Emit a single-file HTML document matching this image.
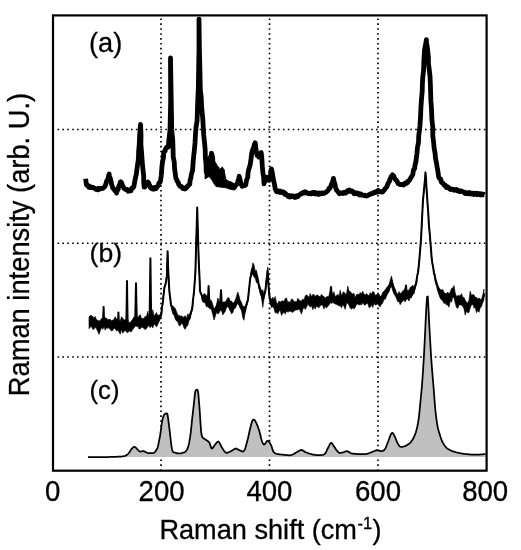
<!DOCTYPE html>
<html><head><meta charset="utf-8"><title>Raman spectra</title>
<style>
html,body{margin:0;padding:0;background:#fff;}
body{width:521px;height:550px;overflow:hidden;}
svg{display:block}
text{font-family:"Liberation Sans",Arial,sans-serif;fill:#000;}
</style></head><body>
<svg width="521" height="550" viewBox="0 0 521 550">
<rect width="521" height="550" fill="#fff"/>
<g stroke="#000" stroke-width="1.5" fill="none"><line x1="161.0" y1="18.45" x2="161.0" y2="469.7" stroke-width="1.7" stroke-dasharray="1.6 3.3"/><line x1="269.5" y1="18.45" x2="269.5" y2="469.7" stroke-width="1.7" stroke-dasharray="1.6 3.3"/><line x1="378.0" y1="18.45" x2="378.0" y2="469.7" stroke-width="1.7" stroke-dasharray="1.6 3.3"/><line x1="57.5" y1="129.5" x2="485.6" y2="129.5" stroke-width="1.6" stroke-dasharray="1.6 3.3"/><line x1="57.5" y1="243.2" x2="485.6" y2="243.2" stroke-width="1.6" stroke-dasharray="1.6 3.3"/><line x1="57.5" y1="357.0" x2="485.6" y2="357.0" stroke-width="1.6" stroke-dasharray="1.6 3.3"/></g>
<path d="M88.0,457.0 L88.8,457.0 L89.5,457.0 L90.2,457.0 L91.0,457.0 L91.8,457.0 L92.5,457.0 L93.2,457.0 L94.0,457.0 L94.8,457.0 L95.5,457.0 L96.2,457.0 L97.0,457.0 L97.8,457.0 L98.5,457.0 L99.2,457.0 L100.0,457.0 L100.8,457.0 L101.5,457.0 L102.2,457.0 L103.0,457.0 L103.8,457.0 L104.5,457.0 L105.2,457.0 L106.0,457.0 L106.8,457.0 L107.5,457.0 L108.2,457.0 L109.0,457.0 L109.8,456.9 L110.5,456.9 L111.2,456.9 L112.0,456.9 L112.8,456.9 L113.5,456.9 L114.2,456.8 L115.0,456.8 L115.8,456.8 L116.5,456.8 L117.2,456.7 L118.0,456.7 L118.8,456.7 L119.5,456.6 L120.2,456.6 L121.0,456.5 L121.8,456.5 L122.5,456.4 L123.2,456.4 L124.0,456.2 L124.8,456.0 L125.5,455.7 L126.2,455.2 L127.0,454.7 L127.8,454.2 L128.5,453.5 L129.2,452.5 L130.0,451.3 L130.8,450.1 L131.5,449.1 L132.2,448.3 L133.0,447.5 L133.8,447.0 L134.5,446.8 L135.2,447.2 L136.0,447.9 L136.8,448.7 L137.5,449.5 L138.2,450.2 L139.0,450.9 L139.8,451.4 L140.5,451.7 L141.2,451.5 L142.0,451.2 L142.8,451.0 L143.5,451.1 L144.2,451.4 L145.0,451.7 L145.8,452.1 L146.5,452.5 L147.2,452.8 L148.0,453.0 L148.8,453.1 L149.5,453.2 L150.2,453.2 L151.0,453.2 L151.8,453.1 L152.5,453.1 L153.2,453.0 L154.0,452.7 L154.8,452.1 L155.5,451.3 L156.2,450.3 L157.0,449.0 L157.8,447.0 L158.5,443.9 L159.2,440.1 L160.0,436.0 L160.8,430.9 L161.5,425.1 L162.2,420.7 L163.0,417.6 L163.8,415.5 L164.5,414.3 L165.2,413.7 L166.0,413.6 L166.8,413.3 L167.5,414.3 L168.2,419.0 L169.0,425.3 L169.8,431.9 L170.5,438.2 L171.2,444.4 L172.0,449.4 L172.8,451.7 L173.5,452.3 L174.2,452.5 L175.0,452.7 L175.8,452.9 L176.5,453.1 L177.2,453.3 L178.0,453.4 L178.8,453.4 L179.5,453.4 L180.2,453.4 L181.0,453.3 L181.8,453.1 L182.5,452.9 L183.2,452.7 L184.0,452.4 L184.8,452.1 L185.5,451.7 L186.2,450.9 L187.0,449.6 L187.8,447.9 L188.5,445.7 L189.2,442.4 L190.0,437.9 L190.8,432.2 L191.5,425.4 L192.2,418.5 L193.0,411.5 L193.8,404.6 L194.5,397.8 L195.2,391.8 L196.0,390.0 L196.8,389.7 L197.5,389.8 L198.2,392.5 L199.0,401.6 L199.8,412.1 L200.5,423.4 L201.2,432.5 L202.0,436.6 L202.8,437.8 L203.5,438.3 L204.2,438.8 L205.0,439.3 L205.8,439.8 L206.5,440.3 L207.2,440.8 L208.0,441.3 L208.8,441.8 L209.5,442.8 L210.2,444.9 L211.0,447.2 L211.8,448.6 L212.5,448.3 L213.2,447.4 L214.0,446.2 L214.8,445.1 L215.5,444.1 L216.2,443.2 L217.0,442.3 L217.8,441.6 L218.5,441.5 L219.2,442.4 L220.0,443.8 L220.8,445.4 L221.5,446.8 L222.2,448.0 L223.0,449.2 L223.8,450.4 L224.5,451.4 L225.2,452.2 L226.0,452.7 L226.8,452.9 L227.5,452.8 L228.2,452.5 L229.0,452.1 L229.8,451.8 L230.5,451.4 L231.2,451.0 L232.0,450.6 L232.8,450.1 L233.5,449.6 L234.2,449.1 L235.0,448.7 L235.8,448.6 L236.5,448.7 L237.2,449.1 L238.0,449.5 L238.8,449.9 L239.5,450.2 L240.2,450.6 L241.0,450.9 L241.8,451.3 L242.5,451.6 L243.2,451.5 L244.0,450.9 L244.8,449.6 L245.5,447.5 L246.2,445.0 L247.0,442.1 L247.8,439.0 L248.5,435.9 L249.2,432.6 L250.0,429.2 L250.8,426.0 L251.5,423.2 L252.2,421.1 L253.0,419.9 L253.8,419.6 L254.5,420.0 L255.2,421.0 L256.0,422.4 L256.8,424.1 L257.5,425.8 L258.2,427.8 L259.0,430.0 L259.8,432.7 L260.5,435.8 L261.2,438.8 L262.0,441.3 L262.8,443.1 L263.5,444.3 L264.2,444.6 L265.0,443.9 L265.8,442.8 L266.5,441.6 L267.2,440.8 L268.0,440.8 L268.8,441.5 L269.5,442.4 L270.2,443.6 L271.0,445.0 L271.8,447.0 L272.5,449.4 L273.2,451.4 L274.0,452.4 L274.8,453.1 L275.5,453.5 L276.2,453.8 L277.0,454.0 L277.8,454.1 L278.5,454.2 L279.2,454.3 L280.0,454.4 L280.8,454.5 L281.5,454.6 L282.2,454.7 L283.0,454.7 L283.8,454.8 L284.5,454.8 L285.2,454.9 L286.0,455.0 L286.8,455.1 L287.5,455.2 L288.2,455.2 L289.0,455.3 L289.8,455.3 L290.5,455.2 L291.2,455.0 L292.0,454.8 L292.8,454.5 L293.5,454.1 L294.2,453.7 L295.0,453.2 L295.8,452.7 L296.5,452.3 L297.2,451.9 L298.0,451.4 L298.8,451.0 L299.5,450.6 L300.2,450.2 L301.0,450.0 L301.8,450.0 L302.5,450.2 L303.2,450.7 L304.0,451.2 L304.8,451.7 L305.5,452.2 L306.2,452.5 L307.0,452.7 L307.8,453.0 L308.5,453.3 L309.2,453.5 L310.0,453.8 L310.8,454.0 L311.5,454.2 L312.2,454.4 L313.0,454.6 L313.8,454.7 L314.5,454.9 L315.2,454.9 L316.0,455.0 L316.8,455.0 L317.5,455.0 L318.2,455.0 L319.0,455.0 L319.8,455.0 L320.5,455.0 L321.2,455.0 L322.0,455.0 L322.8,454.8 L323.5,454.6 L324.2,454.2 L325.0,453.6 L325.8,452.6 L326.5,451.1 L327.2,449.5 L328.0,448.0 L328.8,446.5 L329.5,444.9 L330.2,443.6 L331.0,442.9 L331.8,443.1 L332.5,444.0 L333.2,445.2 L334.0,446.4 L334.8,447.6 L335.5,448.7 L336.2,449.8 L337.0,450.8 L337.8,451.7 L338.5,452.4 L339.2,452.8 L340.0,452.9 L340.8,452.8 L341.5,452.7 L342.2,452.6 L343.0,452.4 L343.8,452.1 L344.5,451.8 L345.2,451.5 L346.0,451.3 L346.8,451.2 L347.5,451.3 L348.2,451.6 L349.0,452.1 L349.8,452.6 L350.5,453.0 L351.2,453.4 L352.0,453.6 L352.8,453.7 L353.5,453.7 L354.2,453.8 L355.0,453.9 L355.8,453.9 L356.5,453.9 L357.2,454.0 L358.0,454.0 L358.8,454.0 L359.5,454.1 L360.2,454.1 L361.0,454.2 L361.8,454.2 L362.5,454.2 L363.2,454.2 L364.0,454.2 L364.8,454.2 L365.5,454.1 L366.2,454.0 L367.0,453.8 L367.8,453.6 L368.5,453.3 L369.2,453.1 L370.0,452.8 L370.8,452.5 L371.5,452.2 L372.2,451.9 L373.0,451.6 L373.8,451.3 L374.5,451.0 L375.2,450.7 L376.0,450.4 L376.8,450.2 L377.5,450.3 L378.2,450.4 L379.0,450.6 L379.8,450.8 L380.5,451.0 L381.2,451.0 L382.0,451.0 L382.8,450.9 L383.5,450.6 L384.2,450.0 L385.0,449.0 L385.8,447.6 L386.5,445.8 L387.2,443.9 L388.0,442.0 L388.8,440.0 L389.5,437.9 L390.2,435.9 L391.0,434.1 L391.8,433.0 L392.5,432.9 L393.2,433.8 L394.0,435.0 L394.8,436.5 L395.5,438.1 L396.2,440.0 L397.0,441.9 L397.8,443.5 L398.5,444.8 L399.2,445.8 L400.0,446.5 L400.8,446.9 L401.5,447.0 L402.2,446.9 L403.0,446.7 L403.8,446.5 L404.5,446.3 L405.2,446.0 L406.0,445.6 L406.8,445.2 L407.5,444.8 L408.2,444.3 L409.0,443.8 L409.8,443.2 L410.5,442.5 L411.2,441.6 L412.0,440.5 L412.8,439.3 L413.5,437.9 L414.2,436.5 L415.0,434.7 L415.8,432.5 L416.5,429.9 L417.2,427.0 L418.0,423.2 L418.8,418.0 L419.5,411.5 L420.2,404.0 L421.0,396.0 L421.8,387.6 L422.5,378.5 L423.2,368.3 L424.0,355.0 L424.8,339.4 L425.5,324.0 L426.2,309.6 L427.0,296.9 L427.8,296.4 L428.5,308.7 L429.2,323.4 L430.0,337.7 L430.8,351.8 L431.5,362.1 L432.2,371.4 L433.0,380.8 L433.8,390.3 L434.5,399.7 L435.2,408.5 L436.0,416.0 L436.8,421.8 L437.5,426.1 L438.2,429.4 L439.0,432.0 L439.8,434.5 L440.5,436.9 L441.2,439.1 L442.0,441.0 L442.8,442.6 L443.5,443.8 L444.2,444.9 L445.0,446.0 L445.8,447.0 L446.5,447.8 L447.2,448.5 L448.0,449.0 L448.8,449.4 L449.5,449.8 L450.2,450.2 L451.0,450.5 L451.8,450.9 L452.5,451.2 L453.2,451.5 L454.0,451.7 L454.8,451.9 L455.5,452.1 L456.2,452.3 L457.0,452.5 L457.8,452.7 L458.5,452.8 L459.2,453.0 L460.0,453.2 L460.8,453.3 L461.5,453.5 L462.2,453.6 L463.0,453.7 L463.8,453.8 L464.5,453.9 L465.2,454.0 L466.0,454.1 L466.8,454.2 L467.5,454.2 L468.2,454.3 L469.0,454.4 L469.8,454.4 L470.5,454.5 L471.2,454.5 L472.0,454.5 L472.8,454.6 L473.5,454.6 L474.2,454.6 L475.0,454.6 L475.8,454.6 L476.5,454.6 L477.2,454.6 L478.0,454.6 L478.8,454.5 L479.5,454.5 L480.2,454.5 L481.0,454.4 L481.8,454.4 L482.5,454.3 L483.2,454.3 L484.0,454.2 L484.8,454.1 L485.5,454.1 L486,457 L88,457 Z" fill="#c0c0c0" stroke="none"/>
<path d="M88.0,457.0 L88.8,457.0 L89.5,457.0 L90.2,457.0 L91.0,457.0 L91.8,457.0 L92.5,457.0 L93.2,457.0 L94.0,457.0 L94.8,457.0 L95.5,457.0 L96.2,457.0 L97.0,457.0 L97.8,457.0 L98.5,457.0 L99.2,457.0 L100.0,457.0 L100.8,457.0 L101.5,457.0 L102.2,457.0 L103.0,457.0 L103.8,457.0 L104.5,457.0 L105.2,457.0 L106.0,457.0 L106.8,457.0 L107.5,457.0 L108.2,457.0 L109.0,457.0 L109.8,456.9 L110.5,456.9 L111.2,456.9 L112.0,456.9 L112.8,456.9 L113.5,456.9 L114.2,456.8 L115.0,456.8 L115.8,456.8 L116.5,456.8 L117.2,456.7 L118.0,456.7 L118.8,456.7 L119.5,456.6 L120.2,456.6 L121.0,456.5 L121.8,456.5 L122.5,456.4 L123.2,456.4 L124.0,456.2 L124.8,456.0 L125.5,455.7 L126.2,455.2 L127.0,454.7 L127.8,454.2 L128.5,453.5 L129.2,452.5 L130.0,451.3 L130.8,450.1 L131.5,449.1 L132.2,448.3 L133.0,447.5 L133.8,447.0 L134.5,446.8 L135.2,447.2 L136.0,447.9 L136.8,448.7 L137.5,449.5 L138.2,450.2 L139.0,450.9 L139.8,451.4 L140.5,451.7 L141.2,451.5 L142.0,451.2 L142.8,451.0 L143.5,451.1 L144.2,451.4 L145.0,451.7 L145.8,452.1 L146.5,452.5 L147.2,452.8 L148.0,453.0 L148.8,453.1 L149.5,453.2 L150.2,453.2 L151.0,453.2 L151.8,453.1 L152.5,453.1 L153.2,453.0 L154.0,452.7 L154.8,452.1 L155.5,451.3 L156.2,450.3 L157.0,449.0 L157.8,447.0 L158.5,443.9 L159.2,440.1 L160.0,436.0 L160.8,430.9 L161.5,425.1 L162.2,420.7 L163.0,417.6 L163.8,415.5 L164.5,414.3 L165.2,413.7 L166.0,413.6 L166.8,413.3 L167.5,414.3 L168.2,419.0 L169.0,425.3 L169.8,431.9 L170.5,438.2 L171.2,444.4 L172.0,449.4 L172.8,451.7 L173.5,452.3 L174.2,452.5 L175.0,452.7 L175.8,452.9 L176.5,453.1 L177.2,453.3 L178.0,453.4 L178.8,453.4 L179.5,453.4 L180.2,453.4 L181.0,453.3 L181.8,453.1 L182.5,452.9 L183.2,452.7 L184.0,452.4 L184.8,452.1 L185.5,451.7 L186.2,450.9 L187.0,449.6 L187.8,447.9 L188.5,445.7 L189.2,442.4 L190.0,437.9 L190.8,432.2 L191.5,425.4 L192.2,418.5 L193.0,411.5 L193.8,404.6 L194.5,397.8 L195.2,391.8 L196.0,390.0 L196.8,389.7 L197.5,389.8 L198.2,392.5 L199.0,401.6 L199.8,412.1 L200.5,423.4 L201.2,432.5 L202.0,436.6 L202.8,437.8 L203.5,438.3 L204.2,438.8 L205.0,439.3 L205.8,439.8 L206.5,440.3 L207.2,440.8 L208.0,441.3 L208.8,441.8 L209.5,442.8 L210.2,444.9 L211.0,447.2 L211.8,448.6 L212.5,448.3 L213.2,447.4 L214.0,446.2 L214.8,445.1 L215.5,444.1 L216.2,443.2 L217.0,442.3 L217.8,441.6 L218.5,441.5 L219.2,442.4 L220.0,443.8 L220.8,445.4 L221.5,446.8 L222.2,448.0 L223.0,449.2 L223.8,450.4 L224.5,451.4 L225.2,452.2 L226.0,452.7 L226.8,452.9 L227.5,452.8 L228.2,452.5 L229.0,452.1 L229.8,451.8 L230.5,451.4 L231.2,451.0 L232.0,450.6 L232.8,450.1 L233.5,449.6 L234.2,449.1 L235.0,448.7 L235.8,448.6 L236.5,448.7 L237.2,449.1 L238.0,449.5 L238.8,449.9 L239.5,450.2 L240.2,450.6 L241.0,450.9 L241.8,451.3 L242.5,451.6 L243.2,451.5 L244.0,450.9 L244.8,449.6 L245.5,447.5 L246.2,445.0 L247.0,442.1 L247.8,439.0 L248.5,435.9 L249.2,432.6 L250.0,429.2 L250.8,426.0 L251.5,423.2 L252.2,421.1 L253.0,419.9 L253.8,419.6 L254.5,420.0 L255.2,421.0 L256.0,422.4 L256.8,424.1 L257.5,425.8 L258.2,427.8 L259.0,430.0 L259.8,432.7 L260.5,435.8 L261.2,438.8 L262.0,441.3 L262.8,443.1 L263.5,444.3 L264.2,444.6 L265.0,443.9 L265.8,442.8 L266.5,441.6 L267.2,440.8 L268.0,440.8 L268.8,441.5 L269.5,442.4 L270.2,443.6 L271.0,445.0 L271.8,447.0 L272.5,449.4 L273.2,451.4 L274.0,452.4 L274.8,453.1 L275.5,453.5 L276.2,453.8 L277.0,454.0 L277.8,454.1 L278.5,454.2 L279.2,454.3 L280.0,454.4 L280.8,454.5 L281.5,454.6 L282.2,454.7 L283.0,454.7 L283.8,454.8 L284.5,454.8 L285.2,454.9 L286.0,455.0 L286.8,455.1 L287.5,455.2 L288.2,455.2 L289.0,455.3 L289.8,455.3 L290.5,455.2 L291.2,455.0 L292.0,454.8 L292.8,454.5 L293.5,454.1 L294.2,453.7 L295.0,453.2 L295.8,452.7 L296.5,452.3 L297.2,451.9 L298.0,451.4 L298.8,451.0 L299.5,450.6 L300.2,450.2 L301.0,450.0 L301.8,450.0 L302.5,450.2 L303.2,450.7 L304.0,451.2 L304.8,451.7 L305.5,452.2 L306.2,452.5 L307.0,452.7 L307.8,453.0 L308.5,453.3 L309.2,453.5 L310.0,453.8 L310.8,454.0 L311.5,454.2 L312.2,454.4 L313.0,454.6 L313.8,454.7 L314.5,454.9 L315.2,454.9 L316.0,455.0 L316.8,455.0 L317.5,455.0 L318.2,455.0 L319.0,455.0 L319.8,455.0 L320.5,455.0 L321.2,455.0 L322.0,455.0 L322.8,454.8 L323.5,454.6 L324.2,454.2 L325.0,453.6 L325.8,452.6 L326.5,451.1 L327.2,449.5 L328.0,448.0 L328.8,446.5 L329.5,444.9 L330.2,443.6 L331.0,442.9 L331.8,443.1 L332.5,444.0 L333.2,445.2 L334.0,446.4 L334.8,447.6 L335.5,448.7 L336.2,449.8 L337.0,450.8 L337.8,451.7 L338.5,452.4 L339.2,452.8 L340.0,452.9 L340.8,452.8 L341.5,452.7 L342.2,452.6 L343.0,452.4 L343.8,452.1 L344.5,451.8 L345.2,451.5 L346.0,451.3 L346.8,451.2 L347.5,451.3 L348.2,451.6 L349.0,452.1 L349.8,452.6 L350.5,453.0 L351.2,453.4 L352.0,453.6 L352.8,453.7 L353.5,453.7 L354.2,453.8 L355.0,453.9 L355.8,453.9 L356.5,453.9 L357.2,454.0 L358.0,454.0 L358.8,454.0 L359.5,454.1 L360.2,454.1 L361.0,454.2 L361.8,454.2 L362.5,454.2 L363.2,454.2 L364.0,454.2 L364.8,454.2 L365.5,454.1 L366.2,454.0 L367.0,453.8 L367.8,453.6 L368.5,453.3 L369.2,453.1 L370.0,452.8 L370.8,452.5 L371.5,452.2 L372.2,451.9 L373.0,451.6 L373.8,451.3 L374.5,451.0 L375.2,450.7 L376.0,450.4 L376.8,450.2 L377.5,450.3 L378.2,450.4 L379.0,450.6 L379.8,450.8 L380.5,451.0 L381.2,451.0 L382.0,451.0 L382.8,450.9 L383.5,450.6 L384.2,450.0 L385.0,449.0 L385.8,447.6 L386.5,445.8 L387.2,443.9 L388.0,442.0 L388.8,440.0 L389.5,437.9 L390.2,435.9 L391.0,434.1 L391.8,433.0 L392.5,432.9 L393.2,433.8 L394.0,435.0 L394.8,436.5 L395.5,438.1 L396.2,440.0 L397.0,441.9 L397.8,443.5 L398.5,444.8 L399.2,445.8 L400.0,446.5 L400.8,446.9 L401.5,447.0 L402.2,446.9 L403.0,446.7 L403.8,446.5 L404.5,446.3 L405.2,446.0 L406.0,445.6 L406.8,445.2 L407.5,444.8 L408.2,444.3 L409.0,443.8 L409.8,443.2 L410.5,442.5 L411.2,441.6 L412.0,440.5 L412.8,439.3 L413.5,437.9 L414.2,436.5 L415.0,434.7 L415.8,432.5 L416.5,429.9 L417.2,427.0 L418.0,423.2 L418.8,418.0 L419.5,411.5 L420.2,404.0 L421.0,396.0 L421.8,387.6 L422.5,378.5 L423.2,368.3 L424.0,355.0 L424.8,339.4 L425.5,324.0 L426.2,309.6 L427.0,296.9 L427.8,296.4 L428.5,308.7 L429.2,323.4 L430.0,337.7 L430.8,351.8 L431.5,362.1 L432.2,371.4 L433.0,380.8 L433.8,390.3 L434.5,399.7 L435.2,408.5 L436.0,416.0 L436.8,421.8 L437.5,426.1 L438.2,429.4 L439.0,432.0 L439.8,434.5 L440.5,436.9 L441.2,439.1 L442.0,441.0 L442.8,442.6 L443.5,443.8 L444.2,444.9 L445.0,446.0 L445.8,447.0 L446.5,447.8 L447.2,448.5 L448.0,449.0 L448.8,449.4 L449.5,449.8 L450.2,450.2 L451.0,450.5 L451.8,450.9 L452.5,451.2 L453.2,451.5 L454.0,451.7 L454.8,451.9 L455.5,452.1 L456.2,452.3 L457.0,452.5 L457.8,452.7 L458.5,452.8 L459.2,453.0 L460.0,453.2 L460.8,453.3 L461.5,453.5 L462.2,453.6 L463.0,453.7 L463.8,453.8 L464.5,453.9 L465.2,454.0 L466.0,454.1 L466.8,454.2 L467.5,454.2 L468.2,454.3 L469.0,454.4 L469.8,454.4 L470.5,454.5 L471.2,454.5 L472.0,454.5 L472.8,454.6 L473.5,454.6 L474.2,454.6 L475.0,454.6 L475.8,454.6 L476.5,454.6 L477.2,454.6 L478.0,454.6 L478.8,454.5 L479.5,454.5 L480.2,454.5 L481.0,454.4 L481.8,454.4 L482.5,454.3 L483.2,454.3 L484.0,454.2 L484.8,454.1 L485.5,454.1" fill="none" stroke="#000" stroke-width="1.75" stroke-linejoin="round"/>
<path d="M89.0,317.1 L90.2,315.4 L91.5,315.6 L92.8,316.6 L94.0,317.8 L95.2,316.4 L96.5,319.7 L97.8,320.2 L99.0,321.1 L100.2,320.6 L101.5,318.6 L102.8,318.1 L104.0,316.3 L105.2,317.8 L106.5,318.3 L107.8,319.5 L109.0,319.5 L110.2,319.3 L111.5,320.7 L112.8,320.1 L114.0,319.5 L115.2,316.7 L116.5,319.1 L117.8,319.2 L119.0,320.6 L120.2,321.0 L121.5,316.7 L122.8,318.3 L124.0,319.9 L125.2,319.8 L126.5,318.8 L127.8,320.3 L129.0,322.8 L130.2,322.4 L131.5,320.8 L132.8,319.0 L134.0,316.8 L135.2,318.7 L136.5,317.0 L137.8,317.7 L139.0,315.8 L140.2,314.6 L141.5,318.4 L142.8,318.6 L144.0,318.3 L145.2,316.2 L146.5,316.6 L147.8,311.2 L149.0,317.2 L150.2,316.9 L151.5,316.3 L152.8,309.7 L154.0,316.2 L155.2,314.4 L156.5,312.5 L157.8,316.0 L159.0,314.5 L160.2,315.5 L161.5,311.3 L162.8,301.2 L164.0,290.2 L165.2,284.0 L166.5,277.5 L167.8,253.7 L169.0,284.2 L170.2,298.5 L171.5,306.0 L172.8,305.8 L174.0,307.3 L175.2,308.3 L176.5,311.4 L177.8,314.9 L179.0,315.6 L180.2,316.2 L181.5,315.8 L182.8,316.9 L184.0,317.2 L185.2,315.6 L186.5,318.6 L187.8,313.7 L189.0,315.9 L190.2,313.2 L191.5,309.5 L192.8,302.8 L194.0,291.8 L195.2,273.6 L196.5,232.8 L197.8,225.5 L199.0,266.7 L200.2,290.5 L201.5,294.2 L202.8,296.1 L204.0,293.6 L205.2,294.1 L206.5,295.4 L207.8,296.1 L209.0,297.4 L210.2,300.6 L211.5,300.5 L212.8,304.8 L214.0,308.7 L215.2,308.0 L216.5,304.9 L217.8,298.0 L219.0,300.6 L220.2,301.7 L221.5,303.3 L222.8,302.2 L224.0,301.8 L225.2,302.2 L226.5,299.9 L227.8,297.7 L229.0,297.8 L230.2,301.1 L231.5,301.1 L232.8,303.1 L234.0,302.6 L235.2,300.7 L236.5,296.2 L237.8,292.0 L239.0,295.7 L240.2,300.3 L241.5,302.3 L242.8,306.5 L244.0,306.1 L245.2,306.8 L246.5,301.7 L247.8,299.3 L249.0,289.5 L250.2,277.7 L251.5,271.1 L252.8,262.8 L254.0,264.8 L255.2,270.8 L256.5,270.3 L257.8,277.3 L259.0,283.6 L260.2,286.9 L261.5,291.0 L262.8,289.7 L264.0,294.4 L265.2,289.7 L266.5,277.8 L267.8,266.8 L269.0,291.0 L270.2,298.7 L271.5,299.1 L272.8,297.3 L274.0,299.6 L275.2,296.4 L276.5,302.9 L277.8,303.7 L279.0,300.9 L280.2,302.1 L281.5,301.3 L282.8,300.8 L284.0,301.6 L285.2,298.5 L286.5,297.9 L287.8,302.4 L289.0,301.6 L290.2,302.5 L291.5,298.9 L292.8,299.4 L294.0,301.8 L295.2,301.4 L296.5,302.0 L297.8,298.3 L299.0,300.0 L300.2,300.7 L301.5,301.0 L302.8,299.0 L304.0,299.7 L305.2,296.1 L306.5,294.7 L307.8,296.1 L309.0,297.3 L310.2,293.5 L311.5,296.7 L312.8,294.4 L314.0,294.5 L315.2,296.5 L316.5,295.1 L317.8,295.2 L319.0,296.3 L320.2,296.8 L321.5,294.3 L322.8,296.1 L324.0,296.6 L325.2,298.2 L326.5,296.7 L327.8,296.5 L329.0,295.9 L330.2,291.5 L331.5,291.4 L332.8,294.8 L334.0,291.7 L335.2,296.6 L336.5,295.6 L337.8,294.3 L339.0,296.2 L340.2,290.1 L341.5,295.7 L342.8,292.5 L344.0,291.8 L345.2,293.9 L346.5,294.0 L347.8,286.1 L349.0,291.1 L350.2,291.6 L351.5,292.9 L352.8,294.2 L354.0,293.2 L355.2,297.7 L356.5,294.5 L357.8,294.2 L359.0,294.8 L360.2,292.4 L361.5,293.9 L362.8,291.2 L364.0,294.2 L365.2,294.9 L366.5,293.4 L367.8,295.0 L369.0,295.7 L370.2,292.7 L371.5,293.8 L372.8,291.6 L374.0,292.1 L375.2,295.5 L376.5,294.4 L377.8,294.7 L379.0,293.9 L380.2,296.5 L381.5,295.6 L382.8,292.0 L384.0,291.3 L385.2,289.5 L386.5,288.1 L387.8,285.9 L389.0,285.1 L390.2,280.3 L391.5,275.9 L392.8,282.6 L394.0,287.3 L395.2,288.8 L396.5,292.7 L397.8,294.4 L399.0,291.5 L400.2,293.4 L401.5,292.9 L402.8,290.8 L404.0,290.3 L405.2,287.5 L406.5,291.4 L407.8,290.2 L409.0,290.2 L410.2,287.3 L411.5,286.5 L412.8,285.2 L414.0,286.9 L415.2,284.3 L416.5,278.9 L417.8,272.9 L419.0,262.2 L420.2,248.7 L421.5,229.8 L422.8,204.6 L424.0,188.9 L425.2,171.3 L426.5,186.2 L427.8,206.0 L429.0,224.6 L430.2,239.8 L431.5,255.1 L432.8,265.2 L434.0,271.2 L435.2,276.8 L436.5,280.5 L437.8,285.3 L439.0,287.6 L440.2,289.4 L441.5,289.9 L442.8,289.4 L444.0,292.5 L445.2,293.3 L446.5,293.6 L447.8,292.0 L449.0,294.1 L450.2,292.0 L451.5,288.6 L452.8,287.9 L454.0,285.6 L455.2,292.7 L456.5,296.4 L457.8,295.7 L459.0,295.4 L460.2,296.0 L461.5,293.6 L462.8,297.5 L464.0,297.2 L465.2,300.2 L466.5,302.2 L467.8,303.0 L469.0,300.0 L470.2,291.1 L471.5,295.4 L472.8,294.5 L474.0,294.9 L475.2,297.3 L476.5,297.3 L477.8,299.3 L479.0,297.8 L480.2,299.2 L481.5,299.6 L482.8,294.7 L484.0,289.1 L484.0,299.5 L482.8,302.5 L481.5,306.6 L480.2,308.0 L479.0,312.3 L477.8,310.5 L476.5,312.8 L475.2,307.2 L474.0,308.3 L472.8,304.1 L471.5,304.7 L470.2,308.1 L469.0,312.4 L467.8,312.8 L466.5,311.3 L465.2,315.2 L464.0,308.9 L462.8,306.3 L461.5,305.3 L460.2,304.4 L459.0,305.2 L457.8,308.3 L456.5,307.5 L455.2,303.1 L454.0,297.5 L452.8,297.0 L451.5,302.2 L450.2,301.1 L449.0,307.2 L447.8,305.1 L446.5,305.0 L445.2,302.7 L444.0,303.6 L442.8,301.0 L441.5,299.9 L440.2,298.2 L439.0,295.0 L437.8,291.3 L436.5,285.2 L435.2,280.3 L434.0,274.0 L432.8,266.7 L431.5,256.5 L430.2,240.2 L429.0,225.2 L427.8,206.5 L426.5,187.7 L425.2,179.1 L424.0,190.7 L422.8,205.1 L421.5,230.1 L420.2,249.2 L419.0,263.1 L417.8,274.2 L416.5,282.7 L415.2,288.3 L414.0,294.0 L412.8,293.9 L411.5,296.0 L410.2,298.0 L409.0,301.1 L407.8,298.9 L406.5,299.2 L405.2,302.0 L404.0,300.1 L402.8,301.0 L401.5,302.4 L400.2,304.8 L399.0,301.4 L397.8,301.9 L396.5,298.5 L395.2,295.7 L394.0,294.2 L392.8,290.9 L391.5,286.4 L390.2,288.1 L389.0,292.0 L387.8,293.4 L386.5,296.2 L385.2,299.5 L384.0,299.0 L382.8,302.9 L381.5,304.3 L380.2,306.7 L379.0,306.0 L377.8,303.5 L376.5,304.7 L375.2,305.1 L374.0,303.3 L372.8,307.6 L371.5,304.7 L370.2,307.2 L369.0,307.4 L367.8,303.5 L366.5,303.5 L365.2,305.3 L364.0,304.8 L362.8,302.5 L361.5,304.9 L360.2,304.4 L359.0,305.1 L357.8,304.1 L356.5,304.5 L355.2,307.2 L354.0,309.1 L352.8,307.7 L351.5,309.2 L350.2,308.0 L349.0,305.3 L347.8,303.2 L346.5,303.6 L345.2,309.4 L344.0,306.6 L342.8,304.4 L341.5,307.9 L340.2,305.8 L339.0,305.9 L337.8,305.0 L336.5,304.6 L335.2,304.0 L334.0,303.2 L332.8,302.6 L331.5,303.5 L330.2,302.8 L329.0,305.1 L327.8,306.2 L326.5,308.0 L325.2,306.3 L324.0,309.1 L322.8,305.4 L321.5,305.1 L320.2,305.8 L319.0,307.8 L317.8,306.9 L316.5,306.1 L315.2,309.0 L314.0,306.6 L312.8,309.7 L311.5,305.7 L310.2,307.1 L309.0,305.6 L307.8,304.3 L306.5,307.3 L305.2,309.5 L304.0,307.1 L302.8,309.5 L301.5,314.2 L300.2,311.1 L299.0,308.9 L297.8,309.7 L296.5,309.9 L295.2,310.2 L294.0,310.9 L292.8,312.6 L291.5,311.8 L290.2,311.2 L289.0,311.3 L287.8,312.3 L286.5,311.0 L285.2,314.2 L284.0,311.9 L282.8,313.2 L281.5,315.4 L280.2,310.3 L279.0,311.5 L277.8,313.9 L276.5,312.7 L275.2,312.9 L274.0,308.4 L272.8,306.7 L271.5,307.6 L270.2,302.1 L269.0,292.7 L267.8,274.5 L266.5,283.2 L265.2,292.5 L264.0,299.0 L262.8,307.4 L261.5,297.7 L260.2,293.2 L259.0,287.7 L257.8,282.4 L256.5,282.7 L255.2,278.3 L254.0,275.3 L252.8,274.7 L251.5,274.5 L250.2,280.0 L249.0,290.7 L247.8,301.8 L246.5,306.1 L245.2,312.5 L244.0,320.3 L242.8,318.0 L241.5,310.5 L240.2,308.6 L239.0,305.2 L237.8,303.6 L236.5,305.4 L235.2,308.4 L234.0,308.6 L232.8,312.8 L231.5,313.8 L230.2,311.0 L229.0,308.4 L227.8,306.6 L226.5,307.6 L225.2,311.6 L224.0,313.1 L222.8,315.0 L221.5,310.7 L220.2,310.4 L219.0,313.1 L217.8,313.9 L216.5,312.3 L215.2,316.8 L214.0,320.0 L212.8,314.7 L211.5,309.9 L210.2,308.4 L209.0,308.2 L207.8,306.6 L206.5,307.1 L205.2,303.2 L204.0,302.4 L202.8,302.0 L201.5,295.9 L200.2,291.1 L199.0,267.1 L197.8,228.8 L196.5,234.1 L195.2,273.9 L194.0,292.4 L192.8,304.1 L191.5,312.8 L190.2,318.8 L189.0,320.5 L187.8,325.5 L186.5,326.6 L185.2,329.3 L184.0,327.9 L182.8,324.2 L181.5,323.2 L180.2,325.7 L179.0,325.6 L177.8,321.8 L176.5,321.0 L175.2,318.9 L174.0,314.9 L172.8,314.0 L171.5,308.5 L170.2,299.4 L169.0,285.5 L167.8,259.7 L166.5,280.0 L165.2,285.9 L164.0,291.5 L162.8,303.1 L161.5,313.9 L160.2,319.6 L159.0,321.6 L157.8,324.4 L156.5,326.9 L155.2,324.8 L154.0,324.3 L152.8,328.1 L151.5,325.7 L150.2,327.8 L149.0,325.8 L147.8,326.5 L146.5,328.6 L145.2,329.7 L144.0,328.5 L142.8,327.5 L141.5,327.2 L140.2,329.0 L139.0,328.9 L137.8,326.3 L136.5,326.5 L135.2,326.0 L134.0,327.9 L132.8,329.5 L131.5,331.6 L130.2,331.7 L129.0,330.7 L127.8,332.9 L126.5,332.1 L125.2,330.5 L124.0,331.2 L122.8,333.3 L121.5,329.7 L120.2,334.3 L119.0,332.0 L117.8,330.3 L116.5,330.8 L115.2,329.1 L114.0,328.1 L112.8,330.6 L111.5,330.9 L110.2,329.7 L109.0,327.6 L107.8,328.4 L106.5,327.8 L105.2,330.3 L104.0,326.5 L102.8,329.3 L101.5,327.4 L100.2,331.1 L99.0,334.4 L97.8,331.6 L96.5,328.8 L95.2,327.2 L94.0,329.2 L92.8,329.4 L91.5,326.6 L90.2,327.0 L89.0,328.7 Z" fill="#000" stroke="#000" stroke-width="0.6" stroke-linejoin="round"/>
<path d="M89.0,319.8 L89.5,320.0 L90.0,320.7 L90.5,320.5 L91.0,320.7 L91.5,320.8 L92.0,321.9 L92.5,321.8 L93.0,323.4 L93.5,323.7 L94.0,322.8 L94.5,323.8 L95.0,324.8 L95.5,323.8 L96.0,324.5 L96.5,324.6 L97.0,325.4 L97.5,325.9 L98.0,323.7 L98.5,325.5 L99.0,324.6 L99.5,324.7 L100.0,324.1 L100.5,324.5 L101.0,323.0 L101.5,323.7 L102.0,322.4 L102.5,323.0 L103.0,323.4 L103.3,314.8 L103.6,306.9 L103.9,316.2 L104.2,323.7 L104.6,323.4 L105.0,322.6 L105.5,323.7 L106.0,322.6 L106.5,324.3 L107.0,324.4 L107.5,324.8 L108.0,324.7 L108.5,324.4 L109.0,325.9 L109.5,325.6 L110.0,326.6 L110.5,325.6 L111.0,324.8 L111.5,325.9 L112.0,326.0 L112.5,326.6 L113.0,326.4 L113.5,324.4 L114.0,326.0 L114.5,324.7 L115.0,325.6 L115.5,324.8 L116.0,324.6 L116.5,325.0 L117.0,325.1 L117.4,325.5 L117.9,325.3 L118.4,312.4 L118.9,324.7 L119.3,325.4 L119.6,324.6 L120.0,325.3 L120.5,324.8 L121.0,324.9 L121.5,323.5 L122.0,324.5 L122.5,323.7 L123.0,324.0 L123.5,323.1 L124.0,324.4 L124.5,325.1 L124.9,324.0 L125.4,323.6 L125.8,325.0 L126.3,323.9 L126.7,304.4 L127.0,281.1 L127.3,303.3 L127.7,325.3 L128.2,324.6 L128.6,325.2 L129.1,325.3 L129.5,326.5 L130.0,326.6 L130.5,324.5 L131.0,325.0 L131.5,322.9 L132.0,323.3 L132.5,322.4 L133.0,321.5 L133.4,322.8 L133.8,322.6 L134.3,321.1 L134.7,321.5 L135.1,322.8 L135.6,303.7 L136.0,283.3 L136.4,303.4 L136.9,323.2 L137.3,322.6 L137.7,322.3 L138.2,321.3 L138.6,321.7 L139.0,322.3 L139.5,323.0 L140.0,321.5 L140.5,321.7 L141.0,320.9 L141.5,322.5 L142.0,321.9 L142.5,322.7 L143.0,321.4 L143.5,322.1 L144.0,321.9 L144.5,321.2 L145.0,320.3 L145.5,320.5 L146.0,321.1 L146.5,319.5 L147.0,319.0 L147.4,319.9 L147.9,319.4 L148.3,320.7 L148.7,320.8 L149.2,321.1 L149.6,320.8 L150.0,289.9 L150.4,258.2 L150.8,290.3 L151.2,320.5 L151.7,320.6 L152.1,320.5 L152.6,320.8 L153.0,319.5 L153.5,320.4 L154.0,320.0 L154.5,319.6 L155.0,319.6 L155.5,319.2 L156.0,320.0 L156.5,319.7 L157.0,319.8 L157.5,320.8 L158.0,320.4 L158.5,319.8 L159.0,319.8 L159.5,317.3 L160.0,317.4 L160.5,315.7 L161.0,315.7 L161.5,313.1 L162.0,307.0 L162.5,304.6 L163.0,300.9 L163.4,296.0 L163.9,292.7 L164.3,287.9 L164.7,286.4 L165.2,285.5 L165.6,283.5 L166.0,282.5 L166.4,278.5 L166.9,276.2 L167.2,263.1 L167.6,251.3 L168.0,264.6 L168.4,274.1 L168.9,283.6 L169.3,290.8 L169.7,294.4 L170.2,297.8 L170.6,301.3 L171.0,305.1 L171.5,306.0 L172.0,307.6 L172.5,308.8 L173.0,311.0 L173.5,311.1 L174.0,313.2 L174.5,313.5 L175.0,313.2 L175.5,315.1 L176.0,315.2 L176.5,315.4 L177.0,318.1 L177.5,317.1 L178.0,317.3 L178.5,317.5 L179.0,319.4 L179.5,319.4 L180.0,318.8 L180.5,320.9 L181.0,320.2 L181.5,321.9 L182.0,321.6 L182.5,322.1 L183.0,322.3 L183.5,323.2 L184.0,324.4 L184.5,324.3 L185.0,323.0 L185.5,323.2 L186.0,321.9 L186.5,320.8 L187.0,320.3 L187.5,319.6 L188.0,320.6 L188.5,319.3 L189.0,318.8 L189.5,317.1 L190.0,314.9 L190.5,313.7 L191.0,312.5 L191.5,310.8 L192.0,309.8 L192.5,306.2 L193.0,300.0 L193.5,296.0 L194.0,291.9 L194.5,285.1 L195.0,277.7 L195.5,270.5 L195.9,253.6 L196.3,238.2 L196.8,223.0 L197.2,207.5 L197.7,225.9 L198.2,243.9 L198.7,260.4 L199.1,268.9 L199.6,279.5 L200.0,290.7 L200.5,292.7 L201.0,293.6 L201.5,294.6 L202.0,296.3 L202.5,298.7 L203.0,300.9 L203.5,299.6 L204.0,299.3 L204.5,298.8 L205.0,299.1 L205.5,300.8 L206.0,300.3 L206.4,301.5 L206.9,299.7 L207.3,300.8 L207.8,302.1 L208.2,294.6 L208.6,286.0 L209.0,294.6 L209.4,303.1 L209.8,303.5 L210.2,303.2 L210.6,302.9 L211.0,305.1 L211.5,305.3 L212.0,307.2 L212.5,308.1 L213.0,308.3 L213.5,310.0 L214.0,311.0 L214.5,310.3 L215.0,309.3 L215.5,308.8 L216.0,307.6 L216.5,306.7 L217.0,306.8 L217.5,303.9 L218.0,303.0 L218.5,305.1 L219.0,304.7 L219.5,304.9 L220.0,304.8 L220.5,298.3 L221.0,290.3 L221.5,299.7 L222.0,307.4 L222.5,306.6 L223.0,306.2 L223.5,308.6 L224.0,307.5 L224.5,307.8 L225.0,307.6 L225.5,306.8 L226.0,306.4 L226.5,304.8 L227.0,305.1 L227.5,303.5 L228.0,302.4 L228.5,303.7 L229.0,304.1 L229.5,305.9 L230.0,306.8 L230.5,305.9 L231.0,306.7 L231.5,308.0 L232.0,308.9 L232.5,309.3 L232.9,308.4 L233.4,307.6 L233.9,306.2 L234.3,305.3 L234.8,303.4 L235.3,302.9 L235.7,301.1 L236.2,302.3 L236.7,300.1 L237.1,298.8 L237.6,298.6 L238.1,299.6 L238.6,301.5 L239.1,300.8 L239.6,302.4 L240.0,305.0 L240.5,305.9 L241.0,306.3 L241.5,307.1 L242.0,307.3 L242.5,310.4 L243.0,311.6 L243.5,312.5 L244.0,313.2 L244.5,311.6 L245.0,310.2 L245.5,308.3 L246.0,305.9 L246.5,305.0 L247.0,303.4 L247.5,301.2 L248.0,299.7 L248.5,294.6 L249.0,289.7 L249.5,285.3 L250.0,280.0 L250.5,276.9 L251.0,275.9 L251.4,272.8 L251.9,270.3 L252.4,268.5 L252.8,270.2 L253.2,272.0 L253.7,273.5 L254.1,274.8 L254.5,276.5 L255.0,275.4 L255.5,276.9 L256.0,276.0 L256.5,276.2 L257.0,276.1 L257.5,278.9 L258.0,280.2 L258.5,283.9 L259.0,286.3 L259.5,288.5 L260.0,289.1 L260.5,292.0 L261.0,294.1 L261.5,293.9 L262.0,295.9 L262.5,297.8 L263.0,299.9 L263.5,297.2 L264.0,296.1 L264.5,293.6 L265.0,292.4 L265.5,290.1 L265.9,286.4 L266.3,281.4 L266.8,278.5 L267.2,274.6 L267.6,270.5 L268.0,275.2 L268.4,283.6 L268.8,288.9 L269.2,294.5 L269.6,297.3 L270.1,300.0 L270.6,302.5 L271.0,304.4 L271.5,304.5 L272.0,304.9 L272.5,306.0 L273.0,305.3 L273.5,304.4 L274.0,305.6 L274.5,305.1 L275.0,304.7 L275.5,307.1 L276.0,305.6 L276.5,306.3 L277.0,306.0 L277.5,305.4 L278.0,307.5 L278.5,307.7 L279.0,306.0 L279.5,306.7 L280.0,306.7 L280.5,306.2 L281.0,307.4 L281.5,307.7 L282.0,307.6 L282.5,307.4 L283.0,305.8 L283.5,306.4 L284.0,307.0 L284.5,307.5 L285.0,306.7 L285.5,306.9 L286.0,307.8 L286.5,305.9 L287.0,306.4 L287.5,306.5 L288.0,308.2 L288.5,306.3 L289.0,305.9 L289.5,306.8 L290.0,307.4 L290.5,306.0 L291.0,307.5 L291.5,305.8 L292.0,306.9 L292.5,305.4 L293.0,307.0 L293.5,305.2 L294.0,306.4 L294.5,306.5 L295.0,304.9 L295.5,304.4 L296.0,305.4 L296.5,305.0 L297.0,304.9 L297.5,305.4 L298.0,304.5 L298.5,304.4 L299.0,304.3 L299.5,304.0 L300.0,303.8 L300.5,303.0 L301.0,303.2 L301.5,303.0 L302.0,302.8 L302.5,303.9 L303.0,302.2 L303.5,302.2 L304.0,302.9 L304.5,302.2 L305.0,301.9 L305.5,302.0 L306.0,302.2 L306.5,302.5 L307.0,303.0 L307.5,302.6 L308.0,301.4 L308.5,301.3 L309.0,301.1 L309.5,300.5 L310.0,302.1 L310.5,300.0 L311.0,300.4 L311.5,301.5 L312.0,301.4 L312.5,300.7 L313.0,302.3 L313.5,301.1 L314.0,301.6 L314.5,300.5 L315.0,302.4 L315.5,300.6 L316.0,301.3 L316.5,302.6 L317.0,302.8 L317.5,302.7 L318.0,302.6 L318.5,301.2 L319.0,300.8 L319.5,301.8 L320.0,301.0 L320.5,303.0 L321.0,300.6 L321.5,301.2 L322.0,300.8 L322.5,300.2 L323.0,301.2 L323.5,300.1 L324.0,302.0 L324.5,301.3 L325.0,300.4 L325.5,301.4 L326.0,301.2 L326.5,300.0 L327.0,301.1 L327.5,301.2 L328.0,300.3 L328.5,299.4 L329.0,300.6 L329.5,300.5 L330.0,298.8 L330.5,291.6 L331.0,286.9 L331.5,292.6 L332.0,297.8 L332.5,298.4 L333.0,297.5 L333.5,299.1 L334.0,297.8 L334.5,297.5 L335.0,297.2 L335.5,298.0 L336.0,299.6 L336.5,297.8 L337.0,298.5 L337.5,299.8 L338.0,297.5 L338.5,298.3 L339.0,299.6 L339.5,298.0 L340.0,300.0 L340.5,299.8 L341.0,298.1 L341.5,299.2 L342.0,299.1 L342.5,299.5 L343.0,298.5 L343.5,298.7 L344.0,298.4 L344.5,298.5 L345.0,298.2 L345.5,300.0 L346.0,299.9 L346.5,298.7 L347.0,299.5 L347.5,299.0 L348.0,298.5 L348.5,298.6 L349.0,300.1 L349.5,298.6 L350.0,299.2 L350.5,300.1 L351.0,298.5 L351.5,299.7 L352.0,298.1 L352.5,299.6 L353.0,299.7 L353.5,299.8 L354.0,300.1 L354.5,299.5 L355.0,300.2 L355.5,298.6 L356.0,299.2 L356.5,298.5 L357.0,298.2 L357.5,299.1 L358.0,299.8 L358.5,299.9 L359.0,298.2 L359.5,300.4 L360.0,298.8 L360.5,298.9 L361.0,300.2 L361.5,300.4 L362.0,300.1 L362.5,299.1 L363.0,299.5 L363.5,300.4 L364.0,299.3 L364.5,300.4 L365.0,300.4 L365.5,299.6 L366.0,300.7 L366.5,299.5 L367.0,300.4 L367.5,300.2 L368.0,299.5 L368.5,300.0 L369.0,300.2 L369.5,300.1 L370.0,299.1 L370.5,301.2 L371.0,301.1 L371.5,298.9 L372.0,301.1 L372.5,300.1 L373.0,299.1 L373.5,300.8 L374.0,299.8 L374.5,300.5 L375.0,300.8 L375.5,300.1 L376.0,298.9 L376.5,300.8 L377.0,300.5 L377.5,301.0 L378.0,299.4 L378.5,300.7 L379.0,300.9 L379.5,299.7 L380.0,299.8 L380.5,299.2 L381.0,298.0 L381.5,298.2 L382.0,298.0 L382.5,297.1 L383.0,298.2 L383.5,297.0 L384.0,297.0 L384.5,295.9 L385.0,295.7 L385.5,295.6 L386.0,293.9 L386.5,293.2 L387.0,291.8 L387.5,291.1 L388.0,291.0 L388.5,288.4 L389.0,288.0 L389.4,287.1 L389.9,284.3 L390.3,285.1 L390.7,282.7 L391.2,280.7 L391.6,280.6 L392.1,282.8 L392.6,284.3 L393.0,287.0 L393.5,287.0 L394.0,290.1 L394.5,291.6 L395.0,293.0 L395.5,293.3 L396.0,294.2 L396.5,294.7 L397.0,296.2 L397.5,297.1 L398.0,299.0 L398.5,298.6 L399.0,298.2 L399.5,298.4 L400.0,296.2 L400.5,297.6 L401.0,296.7 L401.5,297.2 L402.0,295.9 L402.5,296.1 L403.0,296.8 L403.4,294.8 L403.9,295.3 L404.3,295.7 L404.8,296.5 L405.2,295.0 L405.6,291.6 L406.0,285.4 L406.4,290.1 L406.8,295.4 L407.2,295.5 L407.6,296.0 L408.0,295.9 L408.5,294.6 L409.0,295.9 L409.5,295.8 L410.0,295.4 L410.5,296.5 L411.0,297.0 L411.5,295.0 L412.0,295.0 L412.5,292.1 L413.0,291.2 L413.5,291.6 L414.0,289.5 L414.5,288.7 L415.0,287.0 L415.5,284.6 L416.0,284.6 L416.5,281.6 L417.0,277.1 L417.5,274.4 L418.0,272.7 L418.5,268.3 L419.0,263.6 L419.5,258.0 L420.0,251.7 L420.5,245.9 L421.0,239.2 L421.5,230.0 L422.0,219.4 L422.5,209.2 L423.0,199.7 L423.5,195.0 L424.0,189.9 L424.4,186.0 L424.8,181.4 L425.2,177.6 L425.6,172.9 L426.1,180.0 L426.5,188.3 L427.0,194.9 L427.5,203.2 L428.0,209.5 L428.5,217.6 L429.0,226.2 L429.5,231.2 L430.0,237.0 L430.5,243.7 L431.0,248.9 L431.5,256.5 L432.0,260.8 L432.5,264.0 L433.0,266.6 L433.5,269.4 L434.0,273.7 L434.5,274.2 L435.0,277.5 L435.5,280.0 L436.0,282.2 L436.5,284.2 L437.0,285.1 L437.5,286.5 L438.0,289.8 L438.5,288.8 L439.0,289.4 L439.5,290.5 L440.0,291.8 L440.5,293.6 L441.0,293.7 L441.5,294.1 L442.0,294.7 L442.5,295.8 L443.0,296.3 L443.5,295.7 L444.0,295.2 L444.5,295.5 L445.0,297.0 L445.5,296.7 L446.0,297.2 L446.5,295.5 L447.0,297.6 L447.5,296.5 L448.0,297.9 L448.5,297.1 L449.0,297.1 L449.5,297.3 L450.0,296.3 L450.5,295.9 L451.0,294.2 L451.5,294.8 L452.0,293.7 L452.5,292.5 L453.0,292.1 L453.5,294.0 L454.0,294.4 L454.5,296.6 L455.0,296.1 L455.5,296.8 L456.0,300.2 L456.5,299.6 L457.0,301.0 L457.5,300.6 L458.0,300.8 L458.5,301.5 L459.0,302.7 L459.5,301.1 L460.0,303.3 L460.5,303.9 L461.0,303.1 L461.5,302.9 L462.0,302.9 L462.5,303.0 L463.0,303.6 L463.5,305.1 L464.0,303.3 L464.5,305.4 L465.0,305.4 L465.5,303.7 L466.0,303.7 L466.5,305.2 L467.0,304.9 L467.5,303.9 L468.0,305.1 L468.5,303.4 L469.0,303.8 L469.5,303.0 L470.0,304.1 L470.5,302.6 L471.0,302.7 L471.5,304.0 L472.0,303.3 L472.5,303.5 L473.0,303.6 L473.5,303.3 L474.0,302.3 L474.5,303.5 L475.0,302.1 L475.5,302.4 L476.0,302.9 L476.5,302.1 L477.0,302.1 L477.5,303.4 L478.0,303.6 L478.5,302.7 L479.0,302.7 L479.5,302.3 L480.0,303.1 L480.5,303.2 L481.0,304.0 L481.5,300.6 L482.0,301.5 L482.5,300.4 L483.0,297.6 L483.5,296.9 L484.0,295.4 L484.5,293.4" fill="none" stroke="#000" stroke-width="2.0" stroke-linejoin="round"/>
<path d="M205,173 L208,167 L210,159 L212,153 L213.5,158 L215,162 L216.5,164 L218,167.5 L219.5,170.5 L221,168 L222.5,167 L224,174 L226,179.5 L230,182 L234,183.5 L236,185 L236,189 L234,190 L230,189.2 L226,187.8 L221,187.2 L216,186.5 L213.5,183 L212,180 L209,176.5 L205,179 Z" fill="#000" stroke="#000" stroke-width="0.8" stroke-linejoin="round"/>
<path d="M85.6,178.7 L86.4,184.6 L86.7,185.3 L87.6,185.2 L88.1,186.2 L88.8,187.3 L89.3,186.0 L90.1,187.5 L90.8,187.6 L91.3,187.3 L91.7,187.2 L92.9,187.3 L93.4,187.5 L93.7,188.0 L94.6,188.3 L95.0,188.5 L95.7,189.4 L96.6,189.3 L97.0,189.2 L97.5,189.8 L98.2,188.5 L98.7,188.5 L99.5,189.2 L100.2,188.3 L100.8,188.3 L101.4,188.6 L102.3,188.1 L102.8,188.4 L103.8,187.5 L104.6,186.9 L104.9,186.5 L105.7,184.5 L106.3,182.5 L106.6,181.1 L107.3,180.3 L108.2,177.8 L108.5,176.3 L109.2,174.0 L109.2,177.1 L110.1,177.7 L110.7,179.6 L111.3,182.6 L111.5,184.0 L112.4,186.6 L112.9,188.2 L113.9,189.3 L114.1,189.1 L115.0,190.8 L116.0,191.6 L116.5,193.1 L117.2,190.7 L118.2,189.4 L118.5,186.9 L119.0,185.8 L119.8,184.2 L120.2,182.3 L120.7,181.8 L121.6,182.7 L122.4,185.2 L122.7,186.1 L123.4,187.0 L123.7,188.0 L124.5,188.9 L125.2,188.9 L125.7,189.6 L126.4,189.5 L126.9,189.9 L127.3,189.6 L128.2,191.2 L128.7,190.2 L129.2,191.1 L130.1,190.7 L130.9,190.8 L131.1,189.6 L132.0,187.9 L132.8,188.2 L133.3,187.5 L133.9,186.6 L134.5,182.9 L135.2,179.0 L135.9,175.9 L136.4,173.9 L136.8,170.1 L137.8,163.2 L138.5,158.1 L138.6,151.5 L139.2,145.1 L139.7,134.6 L140.5,124.4 L141.0,134.3 L140.9,144.3 L141.7,153.9 L142.2,161.6 L143.0,170.1 L143.7,175.7 L143.7,182.4 L144.2,187.2 L145.1,186.8 L145.8,185.2 L146.6,184.4 L147.0,184.7 L147.3,183.3 L147.9,181.9 L148.8,183.0 L149.2,184.6 L149.3,184.8 L150.2,186.3 L150.4,187.6 L151.2,188.3 L151.4,188.5 L152.6,188.8 L152.8,189.0 L153.6,187.7 L154.4,188.9 L155.0,187.4 L155.5,188.5 L156.1,188.6 L156.9,187.4 L157.4,186.5 L158.2,185.7 L158.9,183.0 L159.8,182.6 L160.4,181.5 L161.2,176.0 L161.6,171.4 L162.0,165.6 L162.7,161.2 L163.5,157.1 L163.7,152.5 L164.3,151.5 L165.1,151.2 L165.4,149.4 L166.2,147.7 L166.9,147.1 L167.1,147.7 L168.0,146.4 L168.4,146.8 L168.8,140.7 L169.4,135.4 L170.0,130.6 L170.7,100.4 L170.5,57.9 L171.2,99.9 L171.5,115.6 L171.7,129.9 L172.7,139.7 L173.0,147.3 L173.2,156.9 L174.3,162.3 L174.5,168.2 L175.1,172.4 L175.9,178.5 L176.9,179.7 L177.1,181.2 L178.3,182.5 L178.7,184.4 L179.1,184.8 L180.0,186.3 L180.6,186.3 L181.3,186.4 L182.0,187.0 L182.6,188.4 L183.4,188.6 L183.5,187.8 L184.6,188.9 L184.9,189.0 L185.8,188.4 L186.5,187.8 L187.2,186.5 L187.4,186.9 L188.2,185.4 L189.1,184.9 L189.8,184.2 L190.0,180.7 L190.9,177.7 L191.2,175.5 L191.7,173.2 L192.6,170.5 L193.0,163.7 L193.7,156.0 L194.3,150.7 L195.0,143.0 L195.4,135.6 L196.0,127.5 L197.1,120.7 L197.6,104.3 L198.3,89.2 L199.0,49.2 L199.0,19.1 L199.4,49.6 L199.9,69.5 L200.3,90.1 L201.2,96.8 L201.5,105.1 L202.1,112.0 L202.9,120.3 L203.2,126.7 L203.7,134.7 L204.6,143.2 L205.2,150.1 L205.4,157.8 L206.1,164.9 L206.2,172.2 L206.9,170.2 L207.5,169.5 L207.9,167.3 L208.6,165.8 L209.4,163.4 L210.1,160.6 L210.4,157.1 L211.3,155.4 L211.5,153.2 L212.7,157.7 L212.8,163.4 L213.5,168.5 L213.9,171.4 L214.8,175.9 L214.9,179.5 L215.7,174.7 L216.6,172.1 L217.3,168.6 L217.4,169.8 L218.3,172.8 L219.1,175.2 L219.6,177.7 L219.9,179.4 L220.5,177.8 L220.9,175.2 L221.5,173.0 L222.4,170.5 L222.7,173.1 L223.3,177.0 L223.9,180.6 L224.4,181.6 L225.1,181.5 L226.3,182.2 L226.6,183.4 L227.2,182.9 L228.1,183.6 L228.4,184.4 L229.2,183.6 L230.3,183.6 L230.9,184.4 L231.4,185.3 L231.8,184.9 L232.6,185.8 L233.1,185.9 L233.8,187.3 L234.3,187.0 L235.0,185.8 L235.9,185.3 L236.2,185.1 L236.8,184.0 L237.8,182.2 L238.1,180.5 L238.7,178.8 L239.2,176.3 L240.1,179.9 L240.6,182.1 L241.0,184.2 L241.7,184.5 L242.1,186.3 L242.9,185.9 L243.7,185.7 L244.6,185.6 L245.2,185.3 L245.8,184.7 L246.3,181.6 L246.7,179.7 L247.8,177.3 L247.9,173.8 L248.6,169.9 L249.5,167.1 L250.2,164.6 L250.8,160.6 L251.2,157.9 L251.6,153.8 L252.1,151.6 L253.2,148.4 L254.0,146.9 L254.2,144.9 L255.2,142.8 L255.6,146.3 L256.2,151.0 L257.0,155.4 L257.4,155.2 L258.3,156.0 L258.8,157.1 L259.8,156.1 L260.3,155.0 L261.2,152.4 L261.9,159.0 L262.3,166.5 L262.8,171.9 L263.7,177.7 L264.0,183.8 L264.4,182.5 L264.9,181.1 L266.1,179.8 L266.4,178.0 L266.7,177.2 L267.7,177.5 L268.3,179.4 L269.0,180.4 L269.9,177.6 L270.6,174.4 L270.7,171.6 L271.4,168.9 L272.2,172.3 L273.1,177.6 L273.7,181.1 L274.3,183.3 L274.8,186.1 L275.2,188.9 L276.2,190.8 L276.4,191.6 L277.5,191.9 L277.9,191.1 L278.8,190.8 L279.8,191.9 L280.2,192.4 L280.6,191.1 L281.6,192.1 L282.4,192.4 L282.7,192.7 L283.5,191.9 L284.0,192.3 L284.9,194.3 L285.4,193.4 L286.1,194.0 L286.6,195.1 L287.5,195.4 L287.8,196.4 L288.9,195.6 L289.7,196.9 L290.1,195.8 L290.8,196.8 L291.7,195.8 L292.1,196.6 L293.1,196.0 L293.5,196.5 L294.4,196.6 L294.9,197.4 L295.7,196.7 L296.5,195.8 L296.6,197.0 L297.7,196.6 L298.2,196.4 L298.7,195.1 L299.3,195.1 L299.7,194.6 L300.5,194.0 L301.3,193.4 L301.6,193.7 L302.6,192.7 L303.4,192.3 L304.1,193.0 L304.6,192.0 L305.2,191.8 L305.4,192.8 L306.5,192.4 L306.6,193.1 L307.6,193.0 L308.2,193.6 L308.8,193.7 L309.4,193.5 L309.9,193.3 L310.8,193.8 L311.4,193.9 L312.0,192.7 L312.7,192.6 L313.8,192.5 L314.6,193.8 L314.8,193.7 L315.3,192.7 L316.1,194.0 L316.7,192.9 L317.3,193.5 L318.2,193.6 L318.7,194.4 L319.3,193.1 L319.8,193.7 L320.8,193.9 L321.2,192.9 L321.9,192.9 L322.6,193.1 L323.6,193.5 L323.8,193.1 L324.8,193.0 L325.2,192.6 L326.2,192.3 L326.6,191.9 L327.3,191.0 L328.2,190.4 L328.8,189.0 L329.1,188.1 L329.8,188.4 L331.0,185.8 L331.1,185.3 L331.9,183.2 L332.8,181.4 L332.8,181.0 L333.4,178.4 L334.1,181.5 L334.8,183.3 L335.5,187.2 L336.1,189.1 L336.5,190.3 L337.0,190.3 L338.0,191.9 L338.6,192.5 L339.0,193.2 L339.4,193.7 L340.4,192.9 L341.1,192.9 L341.6,193.3 L342.6,193.5 L342.9,192.7 L343.7,193.3 L344.1,192.5 L345.0,193.1 L345.8,193.0 L346.5,191.4 L346.8,192.1 L347.9,190.5 L348.4,191.6 L348.9,190.4 L349.5,189.9 L350.4,190.8 L350.7,190.9 L351.6,191.7 L352.2,191.0 L352.8,192.2 L353.6,192.7 L354.0,193.7 L354.6,192.4 L355.2,193.2 L356.3,193.7 L356.6,193.7 L357.5,193.1 L357.9,194.1 L358.9,193.6 L359.6,193.8 L359.7,195.0 L361.0,194.0 L361.5,194.6 L361.8,195.2 L362.8,195.2 L363.2,195.1 L364.2,195.6 L364.7,195.2 L365.5,195.6 L366.2,196.0 L367.1,195.9 L367.9,195.5 L368.6,194.9 L368.9,194.8 L369.7,194.3 L370.0,194.5 L370.9,193.7 L371.9,193.5 L372.1,193.7 L373.2,193.0 L373.7,192.5 L374.1,193.0 L375.0,192.1 L375.4,192.6 L376.4,192.2 L376.5,191.4 L377.1,191.6 L378.2,190.3 L378.6,190.9 L379.0,191.8 L379.9,191.5 L380.4,191.6 L381.2,191.9 L381.9,192.0 L382.6,192.0 L382.7,191.9 L383.7,190.5 L384.6,189.7 L385.0,188.7 L385.8,187.9 L386.1,187.8 L387.2,185.8 L387.6,184.5 L388.4,183.0 L389.0,181.9 L389.6,181.1 L389.7,179.6 L390.8,177.8 L391.1,176.5 L391.8,176.5 L392.5,174.8 L393.3,176.1 L393.9,176.2 L394.7,178.5 L394.7,178.7 L395.5,179.8 L396.3,180.2 L397.2,181.4 L397.7,182.9 L398.3,183.7 L399.2,184.0 L399.8,184.6 L400.2,184.3 L400.8,184.3 L401.6,184.7 L402.6,184.4 L403.1,184.7 L403.4,185.0 L404.2,184.7 L404.8,183.2 L405.5,183.9 L406.2,183.6 L407.0,182.7 L407.3,181.7 L407.9,182.3 L408.7,180.6 L409.6,180.2 L410.1,178.8 L410.6,178.2 L411.5,176.6 L412.0,176.0 L412.9,174.0 L413.1,172.2 L413.6,169.5 L414.6,168.7 L414.9,165.7 L415.9,161.7 L416.4,157.6 L417.0,153.3 L417.4,147.9 L418.5,142.4 L418.7,136.3 L420.0,125.5 L420.6,115.4 L420.9,107.7 L421.4,100.4 L422.2,91.5 L422.4,83.7 L422.8,76.8 L423.6,70.2 L423.9,60.4 L424.5,50.4 L425.2,46.3 L425.9,42.7 L426.4,39.6 L426.5,43.1 L427.1,46.0 L427.6,49.9 L428.4,56.9 L428.4,62.8 L429.2,69.4 L430.0,76.0 L430.3,82.7 L430.9,100.7 L431.5,109.2 L431.9,119.5 L432.8,127.5 L432.8,136.0 L433.5,141.2 L434.1,147.9 L435.1,153.5 L435.5,158.3 L436.6,163.8 L437.2,167.5 L437.9,171.2 L438.2,173.9 L438.7,176.9 L439.6,178.7 L440.6,178.8 L441.2,181.2 L441.4,182.3 L442.5,183.1 L443.3,183.3 L443.9,184.8 L444.4,185.2 L445.1,185.9 L445.7,185.5 L446.0,187.2 L446.5,187.6 L447.5,186.9 L447.8,187.7 L448.6,187.4 L449.6,188.9 L450.0,189.2 L450.7,189.5 L451.6,189.0 L451.9,189.3 L453.0,189.5 L453.6,189.4 L453.9,190.2 L454.6,189.8 L455.1,189.6 L456.2,190.0 L456.5,189.4 L457.0,190.8 L458.2,190.9 L458.7,190.7 L459.4,191.6 L460.1,191.6 L460.4,191.1 L461.1,190.9 L462.0,191.2 L462.4,191.5 L463.3,191.9 L464.1,192.3 L464.8,193.3 L465.4,192.4 L465.7,193.6 L466.5,193.4 L467.6,193.7 L467.8,193.0 L468.7,192.5 L469.1,193.8 L470.3,193.0 L470.5,192.9 L471.3,194.0 L472.0,193.9 L472.8,193.2 L473.6,193.4 L474.1,194.5 L474.6,193.5 L475.1,194.3 L476.1,193.4 L477.0,194.6 L477.1,193.5 L478.3,194.2 L478.6,193.5 L479.5,194.3 L480.2,194.9 L481.0,193.7 L481.9,194.0 L482.4,194.9 L482.9,194.7 L483.8,194.3 L484.4,194.8" fill="none" stroke="#000" stroke-width="4.8" stroke-linejoin="round" stroke-linecap="butt"/>
<rect x="53.0" y="15.4" width="433.6" height="455.3" fill="none" stroke="#000" stroke-width="2.2"/>
<g stroke="#000" stroke-width="0.3">
<text x="89" y="52.3" font-size="27.2">(a)</text>
<text x="89.6" y="262.3" font-size="26.6">(b)</text>
<text x="89.6" y="398.6" font-size="25.6">(c)</text>
<g font-size="27.6" text-anchor="middle">
<text transform="translate(52.8,501) scale(1,1.07)">0</text>
<text transform="translate(161.6,501) scale(1,1.07)">200</text>
<text transform="translate(269.4,501) scale(1,1.07)">400</text>
<text transform="translate(378,501) scale(1,1.07)">600</text>
<text transform="translate(485.2,501) scale(1,1.07)">800</text>
</g>
<text id="xl" transform="translate(159.4,539) scale(1,1.05)" font-size="27.15">Raman shift (cm<tspan font-size="16.5" dy="-9.5" dx="0.6">-1</tspan><tspan dy="9.5" dx="0.2">)</tspan></text>
<text id="yl" transform="translate(29,396.2) rotate(-90) scale(1,1.07)" font-size="27.3">Raman intensity (arb. U.)</text>
</g>
</svg>
</body></html>
